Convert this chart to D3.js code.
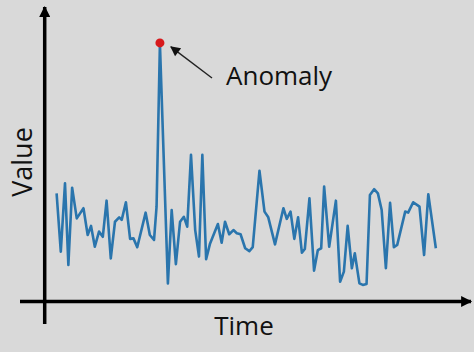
<!DOCTYPE html>
<html lang="en">
    <head>
        <meta charset="utf-8">
        <title>Anomaly</title>
        <script type="text/javascript" src="https://d3js.org/d3.v7.min.js"></script>
        <style type="text/css">
            body {
                margin: 0;
                background: #d9d9d9;
            }
            svg {
                display: block;
            }
            .label {
                font-family: "Open Sans", sans-serif;
                fill: #111;
            }
        </style>
    </head>
    <body>
        <script type="text/javascript">

        // time positions and values
        const time = [3.0, 4.0, 5.0, 5.8, 6.7, 7.8, 9.4, 10.4, 11.2, 12.1, 13.1, 14.0, 14.9, 15.9, 16.9, 17.9, 18.5, 19.5,
                      20.5, 21.3, 22.2, 24.2, 25.2, 26.2, 26.8, 27.6, 29.5, 30.4, 31.4, 32.4, 33.3, 34.1, 35.0, 36.0, 36.9,
                      37.7, 38.6, 39.5, 41.4, 42.3, 43.1, 44.1, 45.1, 45.9, 46.8, 47.9, 48.9, 49.7, 51.3, 52.5, 53.4, 55.0,
                      57.0, 57.8, 58.7, 59.6, 60.5, 61.4, 62.1, 63.2, 64.3, 65.2, 66.0, 66.7, 67.9, 69.5, 70.5, 71.4, 72.3,
                      73.3, 74.0, 75.1, 75.9, 76.8, 77.6, 78.6, 79.5, 80.4, 81.4, 82.4, 83.3, 84.1, 86.0, 86.7, 87.9, 89.4,
                      90.5, 91.5, 93.3];
        const value = [41.0, 18.6, 44.9, 13.5, 43.2, 31.4, 35.3, 25.0, 28.5, 20.5, 26.3, 24.3, 38.2, 16.0, 30.1, 31.8, 30.8, 37.6,
                       23.5, 23.7, 20.3, 33.6, 25.0, 23.1, 35.9, 98.5, 6.4, 34.6, 13.8, 30.1, 32.0, 28.2, 55.8, 26.9, 16.7,
                       55.8, 15.7, 21.5, 29.2, 22.0, 30.1, 25.3, 26.9, 25.7, 25.3, 19.9, 18.8, 20.3, 49.7, 34.0, 31.8, 21.4,
                       35.3, 31.2, 34.0, 23.5, 31.8, 18.2, 19.6, 39.1, 11.3, 19.2, 19.9, 43.6, 20.5, 38.2, 7.0, 10.9, 28.5,
                       12.2, 18.0, 6.4, 5.8, 6.2, 40.4, 42.6, 41.0, 34.6, 12.2, 37.4, 20.3, 21.2, 34.0, 33.6, 37.6, 35.9,
                       17.3, 40.7, 19.9];
        const anomalyIndex = 25;

        const width = 474;
        const height = 352;

        const dataset = time.map((t, i) => ({t: t, v: value[i]}));

        const xScale = d3.scaleLinear()
                        .domain([0, 100])
                        .range([44, 464]);

        const yScale = d3.scaleLinear()
                        .domain([0, 100])
                        .range([300, 40]);

        const svg = d3.select("body")
                    .append("svg")
                    .attr("width", width)
                    .attr("height", height);

        svg.append("rect")
            .attr("width", width)
            .attr("height", height)
            .attr("fill", "#d9d9d9");

        const defs = svg.append("defs");
        defs.append("marker")
            .attr("id", "axisHead")
            .attr("viewBox", "0 0 10 10")
            .attr("refX", 9)
            .attr("refY", 5)
            .attr("markerUnits", "userSpaceOnUse")
            .attr("markerWidth", 12)
            .attr("markerHeight", 11)
            .attr("orient", "auto")
            .append("path")
            .attr("d", "M0,0 L10,5 L0,10 Z")
            .attr("fill", "#000");

        defs.append("marker")
            .attr("id", "pointHead")
            .attr("viewBox", "0 0 10 10")
            .attr("refX", 9)
            .attr("refY", 5)
            .attr("markerUnits", "userSpaceOnUse")
            .attr("markerWidth", 13)
            .attr("markerHeight", 10)
            .attr("orient", "auto")
            .append("path")
            .attr("d", "M0,0 L10,5 L0,10 Z")
            .attr("fill", "#111");

        // horizontal (time) axis
        svg.append("line")
            .attr("x1", 20)
            .attr("x2", 471)
            .attr("y1", yScale(0) + 1.5)
            .attr("y2", yScale(0) + 1.5)
            .attr("stroke", "#000")
            .attr("stroke-width", 3.5)
            .attr("marker-end", "url(#axisHead)");

        // vertical (value) axis
        svg.append("line")
            .attr("x1", xScale(0) + 0.7)
            .attr("x2", xScale(0) + 0.7)
            .attr("y1", 324)
            .attr("y2", 7)
            .attr("stroke", "#000")
            .attr("stroke-width", 3.5)
            .attr("marker-end", "url(#axisHead)");

        const line = d3.line()
                    .x(d => xScale(d.t))
                    .y(d => yScale(d.v));

        svg.append("path")
            .datum(dataset)
            .attr("d", line)
            .attr("fill", "none")
            .attr("stroke", "#2a75ad")
            .attr("stroke-width", 2.6)
            .attr("stroke-linejoin", "round");

        const peak = dataset[anomalyIndex];

        svg.append("circle")
            .attr("cx", xScale(peak.t))
            .attr("cy", yScale(peak.v) - 1)
            .attr("r", 4.5)
            .attr("fill", "#d7191c");

        // pointer to the anomaly
        svg.append("line")
            .attr("x1", 212)
            .attr("y1", 78)
            .attr("x2", xScale(peak.t) + 11)
            .attr("y2", yScale(peak.v) + 3)
            .attr("stroke", "#222")
            .attr("stroke-width", 1.4)
            .attr("marker-end", "url(#pointHead)");

        svg.append("text")
            .attr("class", "label")
            .attr("x", 226)
            .attr("y", 85)
            .style("font-size", "26px")
            .text("Anomaly");

        svg.append("text")
            .attr("class", "label")
            .attr("x", 244)
            .attr("y", 335)
            .attr("text-anchor", "middle")
            .style("font-size", "26px")
            .text("Time");

        svg.append("text")
            .attr("class", "label")
            .attr("transform", "translate(32,162) rotate(-90)")
            .attr("text-anchor", "middle")
            .style("font-size", "27px")
            .text("Value");

        </script>
    </body>
</html>
